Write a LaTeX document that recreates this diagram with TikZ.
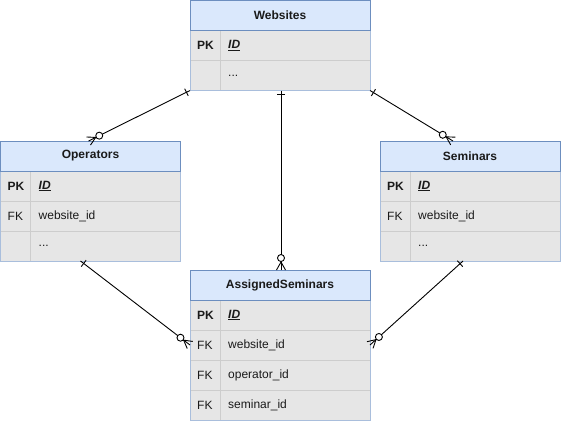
\documentclass[tikz,border=0pt]{standalone}
\usepackage{fontspec}
\setmainfont{Liberation Sans}
\usetikzlibrary{calc}
\definecolor{hdrfill}{HTML}{DAE8FC}
\definecolor{hdrline}{HTML}{6C8EBF}
\definecolor{rowfill}{HTML}{E6E6E6}
\definecolor{rowline}{HTML}{A9BEDC}
\definecolor{sepline}{HTML}{CDCDCD}
\definecolor{txt}{HTML}{1A1A1A}
\tikzset{
  hdrbox/.style={anchor=north west, minimum width=180pt, minimum height=30pt, inner sep=0pt, outer sep=0pt, fill=hdrfill, draw=hdrline, line width=1pt, font=\fontsize{12}{14}\selectfont\bfseries, text=txt},
  rowbox/.style={anchor=north west, minimum width=180pt, minimum height=30pt, inner sep=0pt, outer sep=0pt, fill=rowfill},
  celltxt/.style={anchor=west, inner sep=0pt, font=\fontsize{12}{14}\selectfont, text=txt},
  sepl/.style={draw=sepline, line width=1pt},
  outl/.style={draw=rowline, line width=1pt},
  hdrl/.style={draw=hdrline, line width=1pt},
  conn/.style={line width=0.9pt, black},
}
\newcommand{\erow}[5]{%
  \node[rowbox] (#1) at (#2,#3) {};
  \draw[sepl] (#1.north west) -- (#1.north east);
  \draw[sepl] ($(#1.north west)+(30,0)$) -- ($(#1.south west)+(30,0)$);
  \node[celltxt] (#1k) at ($(#1.west)+(7,0)$) {#4};
  \node[celltxt] (#1f) at ($(#1.west)+(38,0)$) {#5};
}
\newcommand{\erframe}[2]{%
  \draw[outl] (#1.south west) rectangle (#2.south east);
  \draw[hdrl] (#1.north west) rectangle (#1.south east);
}
\newcommand{\erlink}[2]{%
  \draw[conn] (#1) -- (#2);
  \coordinate (tmpbar) at ($(#1)!4pt!(#2)$);
  \draw[conn] ($(tmpbar)!4pt!90:(#2)$) -- ($(tmpbar)!4pt!-90:(#2)$);
  \coordinate (tmpfoot) at ($(#2)!8pt!(#1)$);
  \draw[conn] ($(#2)!4.5pt!90:(#1)$) -- (tmpfoot) -- ($(#2)!4.5pt!-90:(#1)$);
  \draw[conn, fill=white] ($(#2)!12pt!(#1)$) circle (3.5pt);
}
\newcommand{\pkid}{\textbf{\textit{\underline{ID}}}}
\begin{document}
\begin{tikzpicture}[x=1pt,y=-1pt]
\useasboundingbox (0,0) rectangle (561,421);
% Websites
\node[hdrbox] (wh) at (190,0.5) {Websites};
\erow{wr1}{190}{30.5}{\textbf{PK}}{\pkid}
\erow{wr2}{190}{60.5}{}{...}
\erframe{wh}{wr2}
% Operators
\node[hdrbox] (oh) at (0.5,141) {Operators};
\erow{or1}{0.5}{171}{\textbf{PK}}{\pkid}
\erow{or2}{0.5}{201}{FK}{website\_id}
\erow{or3}{0.5}{231}{}{...}
\erframe{oh}{or3}
% Seminars
\node[hdrbox] (sh) at (380,141) {Seminars};
\erow{sr1}{380}{171}{\textbf{PK}}{\pkid}
\erow{sr2}{380}{201}{FK}{website\_id}
\erow{sr3}{380}{231}{}{...}
\erframe{sh}{sr3}
% AssignedSeminars
\node[hdrbox] (ah) at (190,270) {AssignedSeminars};
\erow{ar1}{190}{300}{\textbf{PK}}{\pkid}
\erow{ar2}{190}{330}{FK}{website\_id}
\erow{ar3}{190}{360}{FK}{operator\_id}
\erow{ar4}{190}{390}{FK}{seminar\_id}
\erframe{ah}{ar4}
% connectors
\coordinate (c1a) at (wr2.south west);
\coordinate (c1b) at ($(oh.north)+(-2,0)$);
\coordinate (c2a) at (wr2.south east);
\coordinate (c2b) at ($(sh.north)+(-17,0)$);
\coordinate (c3a) at ($(wr2.south)+(1,0)$);
\coordinate (c3b) at ($(ah.north)+(1,0)$);
\coordinate (c4a) at ($(or3.south)+(-10,0)$);
\coordinate (c4b) at (ar2.west);
\coordinate (c5a) at ($(sr3.south)+(-7,0)$);
\coordinate (c5b) at (ar2.east);
\erlink{c1a}{c1b}
\erlink{c2a}{c2b}
\erlink{c3a}{c3b}
\erlink{c4a}{c4b}
\erlink{c5a}{c5b}
\end{tikzpicture}
\end{document}
